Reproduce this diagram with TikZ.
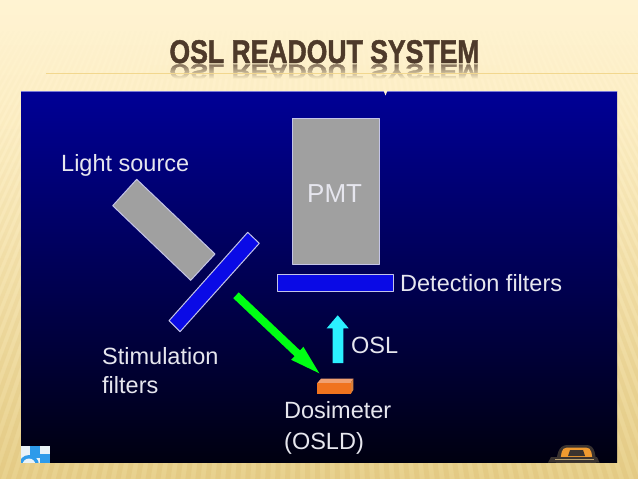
\documentclass[tikz,border=0pt]{standalone}
\usepackage{fontspec}
\setmainfont{Liberation Sans}
\usetikzlibrary{fadings}
\definecolor{labelc}{HTML}{E6E6EE}
\definecolor{edgec}{HTML}{C4C4E8}
\definecolor{greyc}{HTML}{A0A0A0}
\definecolor{filterc}{HTML}{0A0AE6}
\definecolor{titlec}{HTML}{4E3A2A}
\definecolor{creamA}{HTML}{FFF3D2}
\definecolor{creamB}{HTML}{FDEFC6}
\definecolor{tanC}{HTML}{E8D18E}
\definecolor{stripec}{HTML}{D9B96A}
\definecolor{rulec}{HTML}{F2D78E}
\definecolor{panelA}{HTML}{000096}
\definecolor{panelB}{HTML}{00006E}
\definecolor{panelC}{HTML}{000010}
\definecolor{paneledge}{HTML}{7A7AD8}
\definecolor{logoblue}{HTML}{2E9BEA}
\definecolor{logowhite}{HTML}{E8F2F8}
\definecolor{osuorange}{HTML}{F09A30}
\definecolor{osudark}{HTML}{3A3330}
\definecolor{osubeige}{HTML}{B8A070}
\definecolor{arrowgreen}{HTML}{00FF14}
\definecolor{arrowcyan}{HTML}{2BF0FF}
\definecolor{dosiA}{HTML}{F0A070}
\definecolor{dosiB}{HTML}{D8803C}
\definecolor{dosiC}{HTML}{F0731E}
\tikzfading[name=stripefade,top color=transparent!100,middle color=transparent!45,bottom color=transparent!15]
\tikzset{
  lbl/.style={anchor=base west,inner sep=0pt,text=labelc,font=\fontsize{23.5}{28}\selectfont},
  boxed/.style={draw=edgec,line width=1pt,line join=round},
  titletext/.style={anchor=base,inner sep=0pt,font=\fontsize{32.8}{36}\selectfont\bfseries\addfontfeature{FakeBold=1.5}},
}
\begin{document}
\begin{tikzpicture}[x=1pt,y=-1pt]
\useasboundingbox (0,0) rectangle (638,479);
% slide background
\shade[top color=creamA,bottom color=creamB] (0,0) rectangle (638,120);
\shade[top color=creamB,bottom color=tanC] (0,120) rectangle (638,479);
\fill[stripec,opacity=.3,path fading=stripefade]
  foreach \X [evaluate=\X as \ta using {319+(\X-319)*.529},
              evaluate=\X as \tb using {319+(\X+5-319)*.529},
              evaluate=\X as \bb using {\X+5}] in {-401,-391,...,1039}
  { (\ta,28) -- (\tb,28) -- (\bb,479) -- (\X,479) -- cycle };
% title with its reflection
\node[titletext,text=titlec!70!creamB,xscale=.81,yscale=-.62] (mirror) at (324.5,64.5) {OSL READOUT SYSTEM};
\fill[creamB,path fading=north] (150,64) rectangle (500,79);
\draw[rulec,line width=.8pt] (46,73.5) -- (638,73.5);
\node[titletext,text=titlec,xscale=.81] (title) at (324.5,63) {OSL READOUT SYSTEM};
% panel
\shade[top color=panelA,middle color=panelB,bottom color=panelC] (21,91) rectangle (617,462.5);
\draw[paneledge,line width=.6pt] (21,91) -- (617,91);
\fill[creamA] (383.5,90.5) -- (387.5,90.5) -- (385.5,95.5) -- cycle;
% corner logos
\begin{scope}
\clip (21,445.5) rectangle (50,462.5);
\fill[logowhite] (21,445.5) rectangle (50,463);
\fill[logoblue] (30,445.5) rectangle (40,458);
\fill[logoblue] (40,454) rectangle (50,463);
\fill[logoblue] (29,465) circle (10);
\fill[logowhite] (29,465) circle (6.5);
\end{scope}
\begin{scope}
\clip (545,440) rectangle (603,462.5);
\fill[osudark,rounded corners=3pt] (555,464) -- (559,449) -- (564,445) -- (590,445) -- (594,449) -- (597,464) -- cycle;
\fill[osuorange,rounded corners=2pt] (560,462) -- (562,450) -- (565,447.5) -- (588,447.5) -- (591,450) -- (593,462) -- cycle;
\fill[osudark] (570,450) -- (583,450) -- (585,456) -- (568,456) -- cycle;
\fill[osudark] (548,462.5) -- (551,457) -- (597,457) -- (599.5,462.5) -- cycle;
\fill[osubeige] (555,458.5) rectangle (594,460);
\end{scope}
% optics
\path[boxed,fill=greyc] (292,118) rectangle (379,264);
\node[anchor=base west,inner sep=0pt,text=labelc,font=\fontsize{26}{28}\selectfont] (pmt) at (307,202) {PMT};
\path[boxed,fill=filterc] (277,274) rectangle (393,291);
\path[boxed,fill=greyc] (136.7,179.3) -- (215,254) -- (190.7,280.3) -- (112.7,205.7) -- cycle;
\path[boxed,fill=filterc] (247.7,232.3) -- (259.3,243.3) -- (180,331.7) -- (169,320.7) -- cycle;
% arrows
\fill[arrowgreen] (238.7,292.4) -- (300,350.4) -- (303.4,346.8) -- (319.3,373.3) -- (291.2,359.8) -- (294.6,356.2) -- (233.3,298.2) -- cycle;
\fill[arrowcyan] (337.7,315.3) -- (348.7,328.3) -- (343.3,328.3) -- (343.3,363) -- (332.7,363) -- (332.7,328.3) -- (326.7,328.3) -- cycle;
% dosimeter
\fill[dosiA] (317.3,383) -- (321,378.7) -- (353.3,378.7) -- (350.7,383) -- cycle;
\fill[dosiB] (350.7,383) -- (353.3,378.7) -- (353.3,390) -- (350.7,394) -- cycle;
\fill[dosiC] (317.3,383) rectangle (350.7,394);
% labels
\node[lbl] (light) at (61,171) {Light source};
\node[lbl] (detect) at (400,291) {Detection filters};
\node[lbl] (stim1) at (102,364) {Stimulation};
\node[lbl] (stim2) at (102,393) {filters};
\node[lbl] (osl) at (351,353) {OSL};
\node[lbl] (dos) at (284,418) {Dosimeter};
\node[lbl] (oslq) at (284,449) {(OSLD)};
\end{tikzpicture}
\end{document}
